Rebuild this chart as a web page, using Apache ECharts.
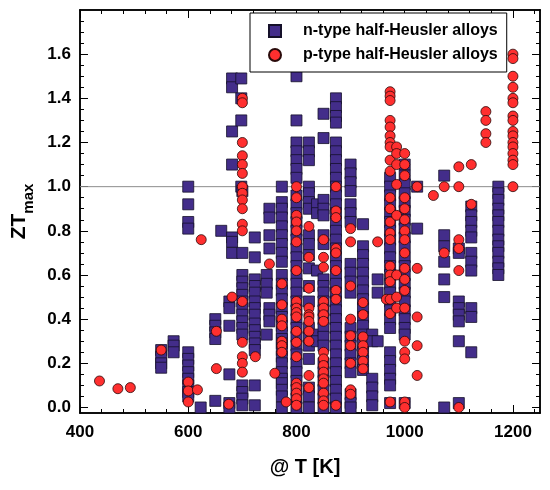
<!DOCTYPE html>
<html>
<head>
<meta charset="utf-8">
<script src="https://cdn.jsdelivr.net/npm/echarts@6/dist/echarts.min.js"></script>
<style>
html,body{margin:0;padding:0;background:#fff;}
#c{width:550px;height:490px;}
</style>
</head>
<body>
<div id="c"></div>
<script>
// ---- data: [temperature K, list of ZTmax values] ----
const nTypeColumns = [
 [550, [0.26,0.23,0.20,0.18]],
 [573, [0.30,0.28,0.25]],
 [600, [1.00,0.92,0.84,0.81,0.25,0.22,0.19,0.16,0.13,0.10,0.07,0.05]],
 [623, [0.00]],
 [650, [0.40,0.37,0.34,0.31,0.03]],
 [661, [0.80]],
 [676, [0.48,0.45,0.37,0.15,0.02,0.00]],
 [681, [1.49,1.45,1.25,1.10,0.77,0.75,0.70]],
 [698, [1.49,1.40,1.30,1.00]],
 [700, [0.98,0.70,0.60,0.57,0.54,0.51,0.48,0.45,0.42,0.39,0.36,0.33,0.10,0.07,0.04,0.01]],
 [723, [0.77,0.68,0.58,0.55,0.52,0.48,0.45,0.42,0.38,0.35,0.32,0.29,0.26,0.10,0.01]],
 [745, [0.60,0.56,0.52,0.33]],
 [750, [0.90,0.86,0.78,0.72,0.45,0.42,0.39]],
 [773, [1.00,0.93,0.90,0.86,0.82,0.78,0.74,0.70,0.66,0.60,0.56,0.53,0.49,0.45,0.41,0.37,0.34,0.31,0.29,0.26,0.23,0.20,0.16,0.13,0.11,0.08,0.05,0.00]],
 [800, [1.50,1.30,1.20,1.16,1.12,1.08,1.04,0.96,0.92,0.88,0.84,0.80,0.76,0.72,0.68,0.64,0.60,0.56,0.52,0.48,0.44,0.40,0.36,0.32,0.28,0.24,0.20,0.16,0.12,0.08,0.04,0.00]],
 [823, [1.20,1.16,1.12,1.00,0.97,0.93,0.90,0.78,0.74,0.69,0.63,0.55,0.48,0.36,0.32,0.28,0.22,0.09,0.05,0.00]],
 [838, [0.92,0.88,0.62,0.33,0.30]],
 [850, [1.33,1.22,0.94,0.90,0.87,0.78,0.74,0.58,0.55,0.52,0.48,0.44,0.40,0.36,0.32,0.28,0.20,0.16,0.12,0.08,0.04,0.00]],
 [873, [1.40,1.36,1.32,1.29,1.20,1.16,1.12,1.08,1.04,1.00,0.96,0.92,0.88,0.84,0.80,0.76,0.72,0.68,0.64,0.60,0.56,0.52,0.48,0.44,0.40,0.36,0.32,0.28,0.24,0.20,0.16,0.12,0.08,0.04,0.00]],
 [900, [1.10,1.06,1.02,0.98,0.92,0.88,0.84,0.65,0.61,0.57,0.52,0.36,0.32,0.28,0.24,0.20,0.16,0.06,0.02,0.00]],
 [923, [0.83,0.73,0.69,0.65,0.61,0.57,0.53,0.49,0.45,0.41,0.37,0.33,0.29,0.25,0.21,0.17]],
 [940, [0.33,0.30,0.13,0.09,0.05,0.01]],
 [950, [0.58,0.52,0.30]],
 [973, [1.04,1.00,0.96,0.92,0.88,0.84,0.80,0.76,0.72,0.68,0.64,0.60,0.56,0.52,0.48,0.44,0.40,0.36,0.25,0.21,0.17,0.13,0.10,0.02]],
 [1000, [1.10,1.05,1.01,0.97,0.93,0.89,0.85,0.81,0.77,0.73,0.68,0.64,0.60,0.56,0.52,0.48,0.44,0.40,0.36,0.33,0.02]],
 [1023, [1.00,0.81]],
 [1073, [1.05,0.78,0.73,0.66,0.58,0.50,0.00]],
 [1100, [0.72,0.70,0.48,0.45,0.42,0.39,0.30,0.02]],
 [1123, [0.91,0.87,0.84,0.80,0.77,0.70,0.66,0.62,0.45,0.41,0.25]],
 [1173, [1.00,0.97,0.94,0.90,0.87,0.84,0.80,0.76,0.73,0.70,0.66,0.63,0.60]]
];
const pTypeColumns = [
 [436, [0.12]],
 [470, [0.085]],
 [493, [0.09]],
 [550, [0.26]],
 [600, [0.115,0.075,0.025]],
 [617, [0.08]],
 [624, [0.76]],
 [652, [0.345,0.176]],
 [675, [0.015]],
 [681, [0.50]],
 [700, [1.40,1.38,1.20,1.14,1.10,1.06,1.00,0.97,0.94,0.90,0.83,0.80,0.48,0.295,0.23,0.20,0.16]],
 [724, [0.23]],
 [750, [0.65]],
 [760, [0.155]],
 [773, [0.56,0.465,0.40,0.37,0.30,0.28,0.25]],
 [781, [0.025]],
 [800, [1.00,0.95,0.87,0.84,0.80,0.75,0.62,0.48,0.45,0.43,0.41,0.345,0.295,0.23,0.11,0.09,0.065,0.04,0.01]],
 [823, [0.82,0.68,0.54,0.45,0.42,0.41,0.39,0.345,0.30,0.145,0.09]],
 [850, [0.76,0.68,0.635,0.48,0.45,0.42,0.39,0.25,0.22,0.19,0.16,0.13,0.11,0.065,0.03,0.01]],
 [873, [1.00,0.89,0.86,0.72,0.70,0.62,0.53,0.49,0.01]],
 [900, [0.81,0.75,0.55,0.40,0.325,0.28,0.20,0.08,0.06]],
 [923, [0.475,0.42,0.32,0.28,0.25,0.21,0.175]],
 [950, [0.75]],
 [966, [0.49]],
 [973, [1.43,1.41,1.39,1.30,1.27,1.23,1.20,1.18,1.12,1.07,0.95,0.90,0.84,0.79,0.76,0.64,0.60,0.57,0.49,0.425,0.025]],
 [985, [1.18,1.15,1.10,1.01,0.87,0.60,0.50,0.45]],
 [1000, [1.15,1.10,1.05,0.95,0.90,0.85,0.80,0.76,0.70,0.63,0.58,0.53,0.45,0.30,0.25,0.22,0.025,0.0]],
 [1023, [1.00,0.63,0.41,0.28,0.145]],
 [1053, [0.96]],
 [1073, [1.00,0.70]],
 [1100, [1.09,1.00,0.76,0.72,0.62,0.0]],
 [1123, [1.10,0.92]],
 [1150, [1.34,1.30,1.24,1.20]],
 [1200, [1.60,1.58,1.50,1.45,1.40,1.38,1.32,1.30,1.25,1.23,1.20,1.18,1.15,1.12,1.10,1.00]]
];
const seriesNames = ['n-type half-Heusler alloys', 'p-type half-Heusler alloys'];
const referenceLevel = [1.0];
const xMajorTicks = [400, 600, 800, 1000, 1200];
const xMinorTicks = [440,480,520,560,640,680,720,760,840,880,920,960,1040,1080,1120,1160,1240];
const yMajorTicks = [0, 0.2, 0.4, 0.6, 0.8, 1.0, 1.2, 1.4, 1.6];
const yMinorTicks = [0.05,0.1,0.15,0.25,0.3,0.35,0.45,0.5,0.55,0.65,0.7,0.75,0.85,0.9,0.95,1.05,1.1,1.15,1.25,1.3,1.35,1.45,1.5,1.55,1.65,1.7,1.75];
const xRange = [400, 1250];
const yRange = [-0.025, 1.8];

function flatten(cols) {
  const out = [];
  cols.forEach(([t, vals]) => vals.forEach(v => out.push([t, v])));
  return out;
}

const FONT = '"Liberation Sans", Arial, sans-serif';
const chart = echarts.init(document.getElementById('c'), null, {renderer: 'canvas'});

function xAxisDef(pos, showLabels, ticks, len) {
  return {
    type: 'value', position: pos, min: xRange[0], max: xRange[1],
    axisLine: {show: true, onZero: false, lineStyle: {color: '#000', width: 1.5}},
    axisTick: {show: true, inside: true, length: len, customValues: ticks, lineStyle: {color: '#000', width: 1}},
    axisLabel: showLabels ? {show: true, customValues: xMajorTicks, margin: 11, color: '#000',
      fontFamily: FONT, fontWeight: 'bold', fontSize: 17, formatter: v => String(v)} : {show: false},
    splitLine: {show: false}
  };
}
function yAxisDef(pos, showLabels, ticks, len) {
  return {
    type: 'value', position: pos, min: yRange[0], max: yRange[1],
    axisLine: {show: true, onZero: false, lineStyle: {color: '#000', width: 1.5}},
    axisTick: {show: true, inside: true, length: len, customValues: ticks, lineStyle: {color: '#000', width: 1}},
    axisLabel: showLabels ? {show: true, customValues: yMajorTicks, margin: 9, color: '#000',
      fontFamily: FONT, fontWeight: 'bold', fontSize: 17, formatter: v => v.toFixed(1)} : {show: false},
    splitLine: {show: false}
  };
}

const xMain = xAxisDef('bottom', true, xMajorTicks, 8);
xMain.name = '@ T [K]';
xMain.nameLocation = 'middle';
xMain.nameGap = 44;
xMain.nameTextStyle = {color: '#000', fontFamily: FONT, fontWeight: 'bold', fontSize: 20, padding: [0, 10, 0, 0]};

const yMain = yAxisDef('left', true, yMajorTicks, 8);
yMain.name = '{a|ZT}{b|max}';
yMain.nameLocation = 'middle';
yMain.nameGap = 44;
yMain.nameRotate = 90;
yMain.nameTextStyle = {
  color: '#000', fontFamily: FONT, fontWeight: 'bold',
  rich: {
    a: {fontSize: 21, fontWeight: 'bold', fontFamily: FONT, color: '#000', verticalAlign: 'bottom', padding: [0, 0, 6, 0]},
    b: {fontSize: 15, fontWeight: 'bold', fontFamily: FONT, color: '#000', verticalAlign: 'bottom'}
  }
};

chart.setOption({
  backgroundColor: '#fff',
  animation: false,
  textStyle: {fontFamily: FONT},
  grid: {left: 80, right: 10, top: 10, bottom: 77, containLabel: false},
  legend: {
    data: seriesNames,
    orient: 'vertical',
    left: 250, top: 13,
    itemWidth: 12, itemHeight: 12, itemGap: 8,
    padding: [10, 9, 9, 18],
    borderColor: '#000', borderWidth: 1, borderRadius: 0,
    backgroundColor: '#fff',
    textStyle: {color: '#000', fontFamily: FONT, fontWeight: 'bold', fontSize: 16, padding: [0, 0, 0, 17]}
  },
  xAxis: [
    xMain,
    xAxisDef('top', false, xMajorTicks, 8),
    xAxisDef('bottom', false, xMinorTicks, 4),
    xAxisDef('top', false, xMinorTicks, 4)
  ],
  yAxis: [
    yMain,
    yAxisDef('right', false, yMajorTicks, 8),
    yAxisDef('left', false, yMinorTicks, 4),
    yAxisDef('right', false, yMinorTicks, 4)
  ],
  series: [
    {
      type: 'line', name: 'ref', silent: true, z: 1,
      data: [[xRange[0], referenceLevel[0]], [xRange[1], referenceLevel[0]]],
      symbol: 'none', lineStyle: {color: '#8c8c8c', width: 1}
    },
    {
      type: 'scatter', name: seriesNames[0], z: 2,
      symbol: 'rect', symbolSize: 11,
      itemStyle: {color: '#432d8a', borderColor: '#15102a', borderWidth: 0.8, opacity: 1},
      data: flatten(nTypeColumns)
    },
    {
      type: 'scatter', name: seriesNames[1], z: 3,
      symbol: 'circle', symbolSize: 10,
      itemStyle: {color: '#ff2f2f', borderColor: '#2a0a0a', borderWidth: 0.8, opacity: 1},
      data: flatten(pTypeColumns)
    }
  ]
});
</script>
</body>
</html>
